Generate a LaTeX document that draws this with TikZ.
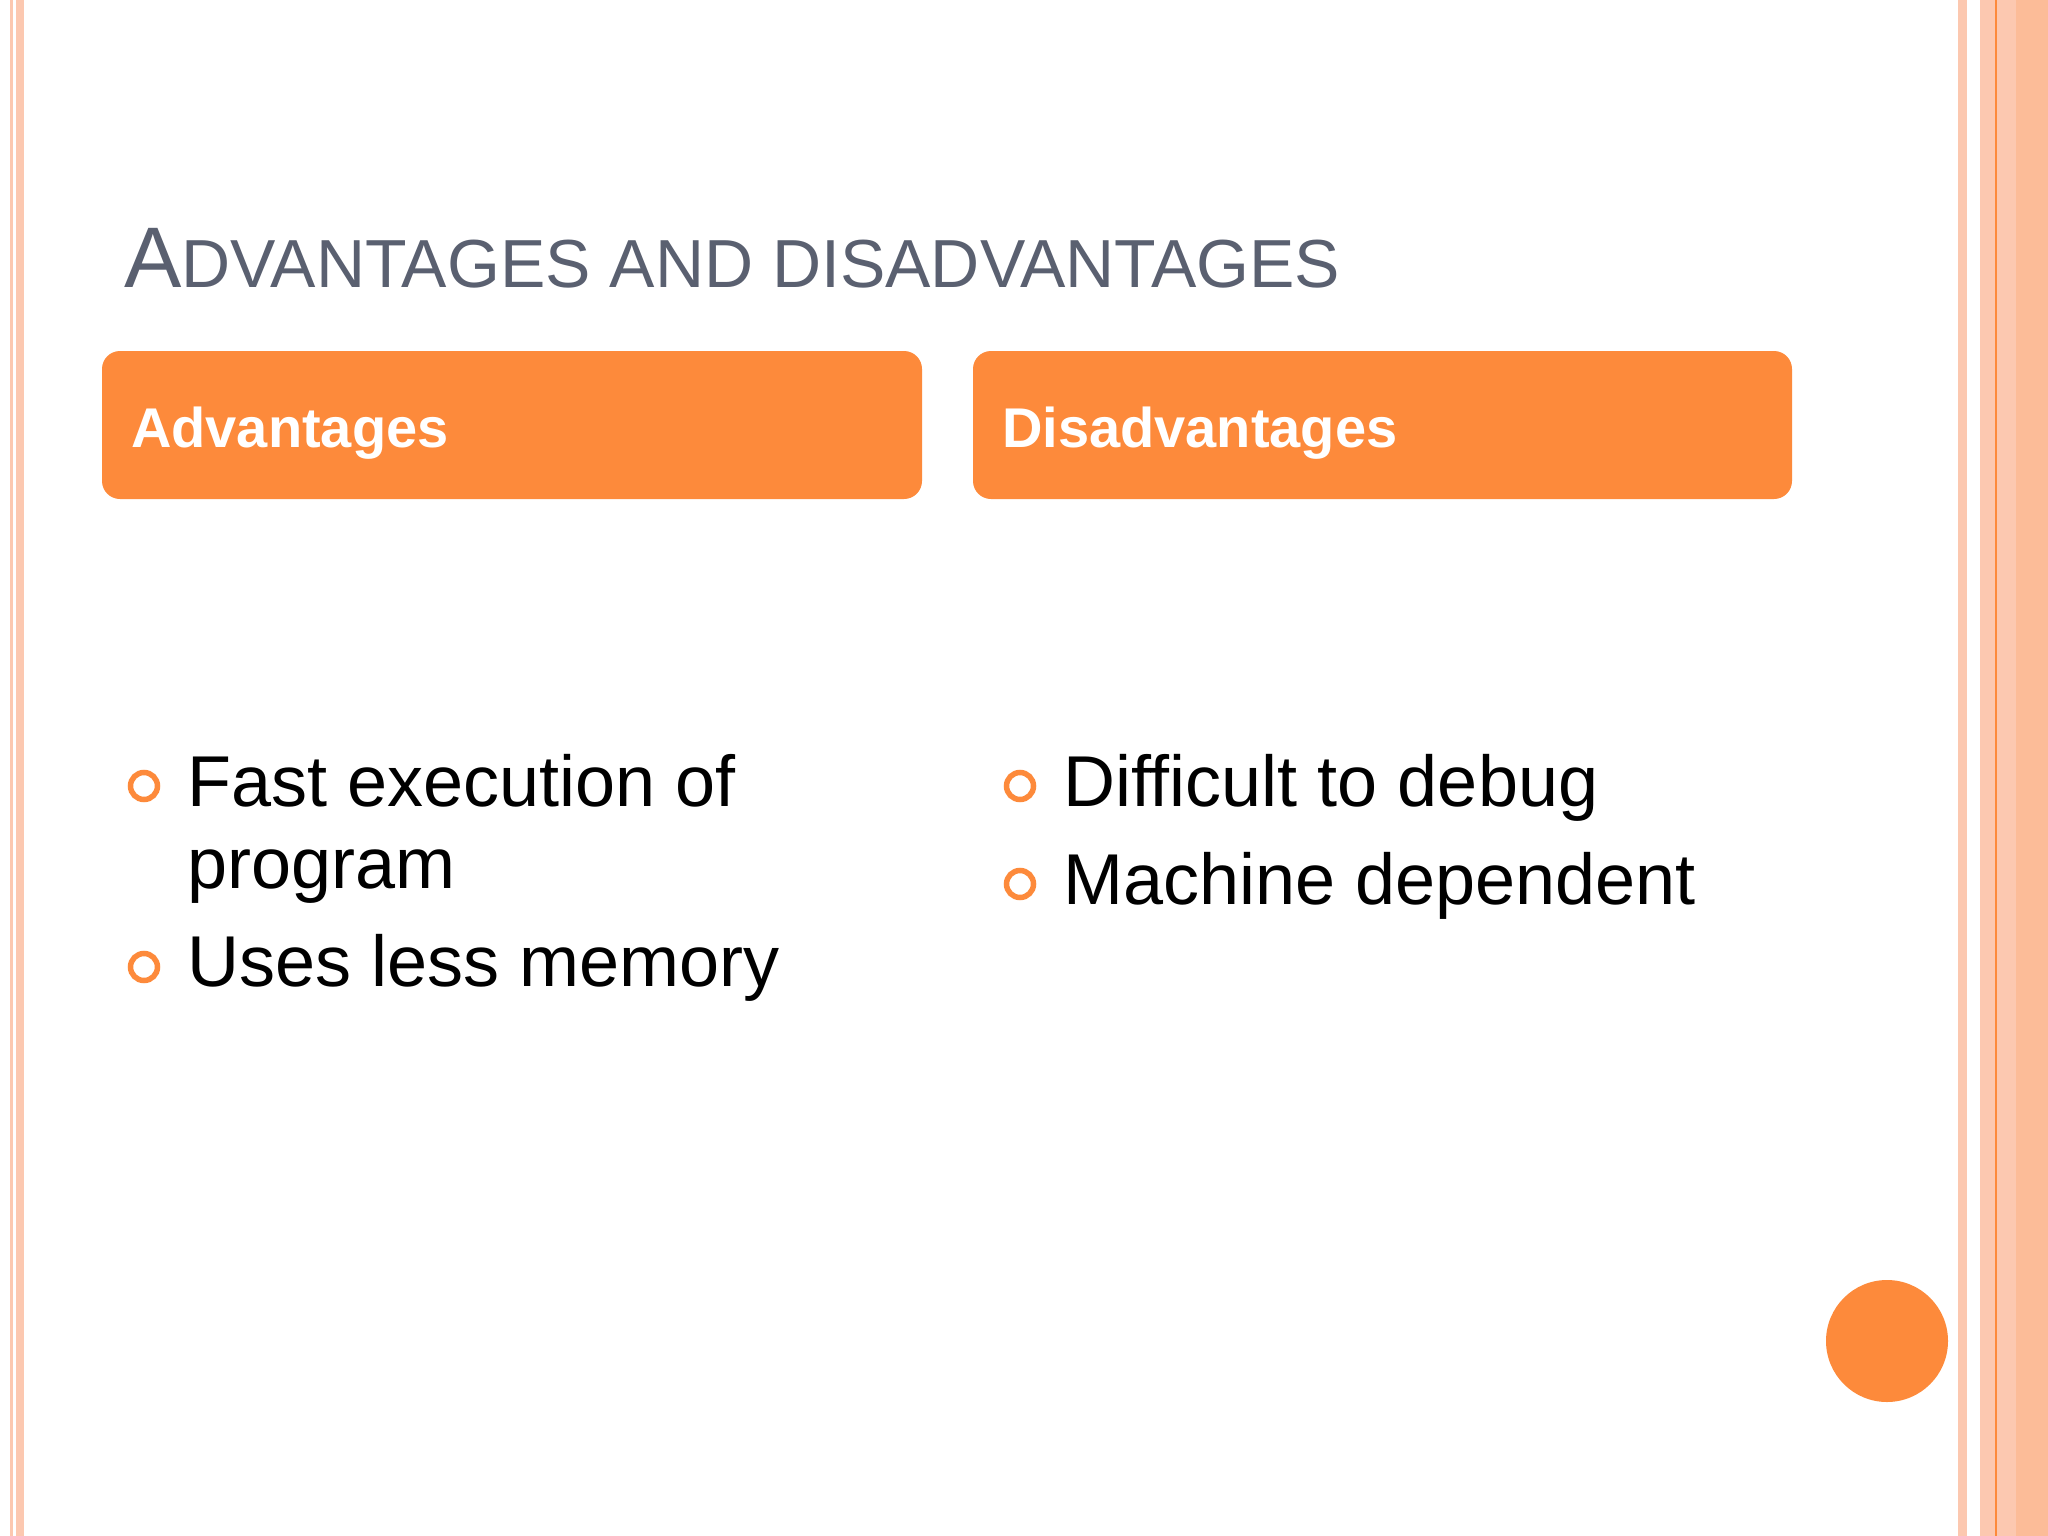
\documentclass[tikz,border=0pt]{standalone}
\usepackage{fontspec}
\setmainfont{Liberation Sans}
\definecolor{org}{HTML}{FD8A3B}
\definecolor{pale}{HTML}{FCC8B0}
\definecolor{ttl}{HTML}{5A6070}
\begin{document}
\begin{tikzpicture}[x=1pt,y=-1pt,
  hdr/.style={fill=org,rounded corners=18pt,draw=none},
  hdrtxt/.style={anchor=base west,text=white,font=\fontsize{56}{60}\selectfont\bfseries,inner sep=0},
  item/.style={anchor=base west,font=\fontsize{72}{84}\selectfont,inner sep=0,align=left},
  ring/.style={draw=org,line width=5.5pt,circle,minimum size=27pt,inner sep=0}]
\fill[white] (0,0) rectangle (2048,1536);
\useasboundingbox (0,0) rectangle (2048,1536);
% borders
\fill[pale] (10,0) rectangle (13,1536);
\fill[pale] (16,0) rectangle (24,1536);
\fill[pale] (1958,0) rectangle (1967,1536);
\fill[pale] (1980,0) rectangle (2048,1536);
\fill[pale!80!org] (2016,0) rectangle (2048,1536);
\fill[org] (1995,0) rectangle (1997,1536);
% title
\node[anchor=base west,inner sep=0,text=ttl] (title) at (124,287)
  {\fontsize{86}{90}\selectfont A\fontsize{68}{72}\selectfont DVANTAGES AND DISADVANTAGES};
% headers
\draw[hdr] (102,351) rectangle (922,499);
\draw[hdr] (973,351) rectangle (1792,499);
\node[hdrtxt] (adv) at (131,447) {Advantages};
\node[hdrtxt] (dis) at (1002,447) {Disadvantages};
% bullets
\node[ring] (b1) at (144,786) {};
\node[ring] (b2) at (144,967) {};
\node[ring] (b3) at (1020,786) {};
\node[ring] (b4) at (1020,884) {};
\node[item] (t1) at (187,806) {Fast execution of};
\node[item] (t1b) at (187,888) {program};
\node[item] (t2) at (187,986) {Uses less memory};
\node[item] (t3) at (1063,806) {Difficult to debug};
\node[item] (t4) at (1063,904) {Machine dependent};
% circle
\fill[org] (1887,1341) circle (61);
\end{tikzpicture}
\end{document}
